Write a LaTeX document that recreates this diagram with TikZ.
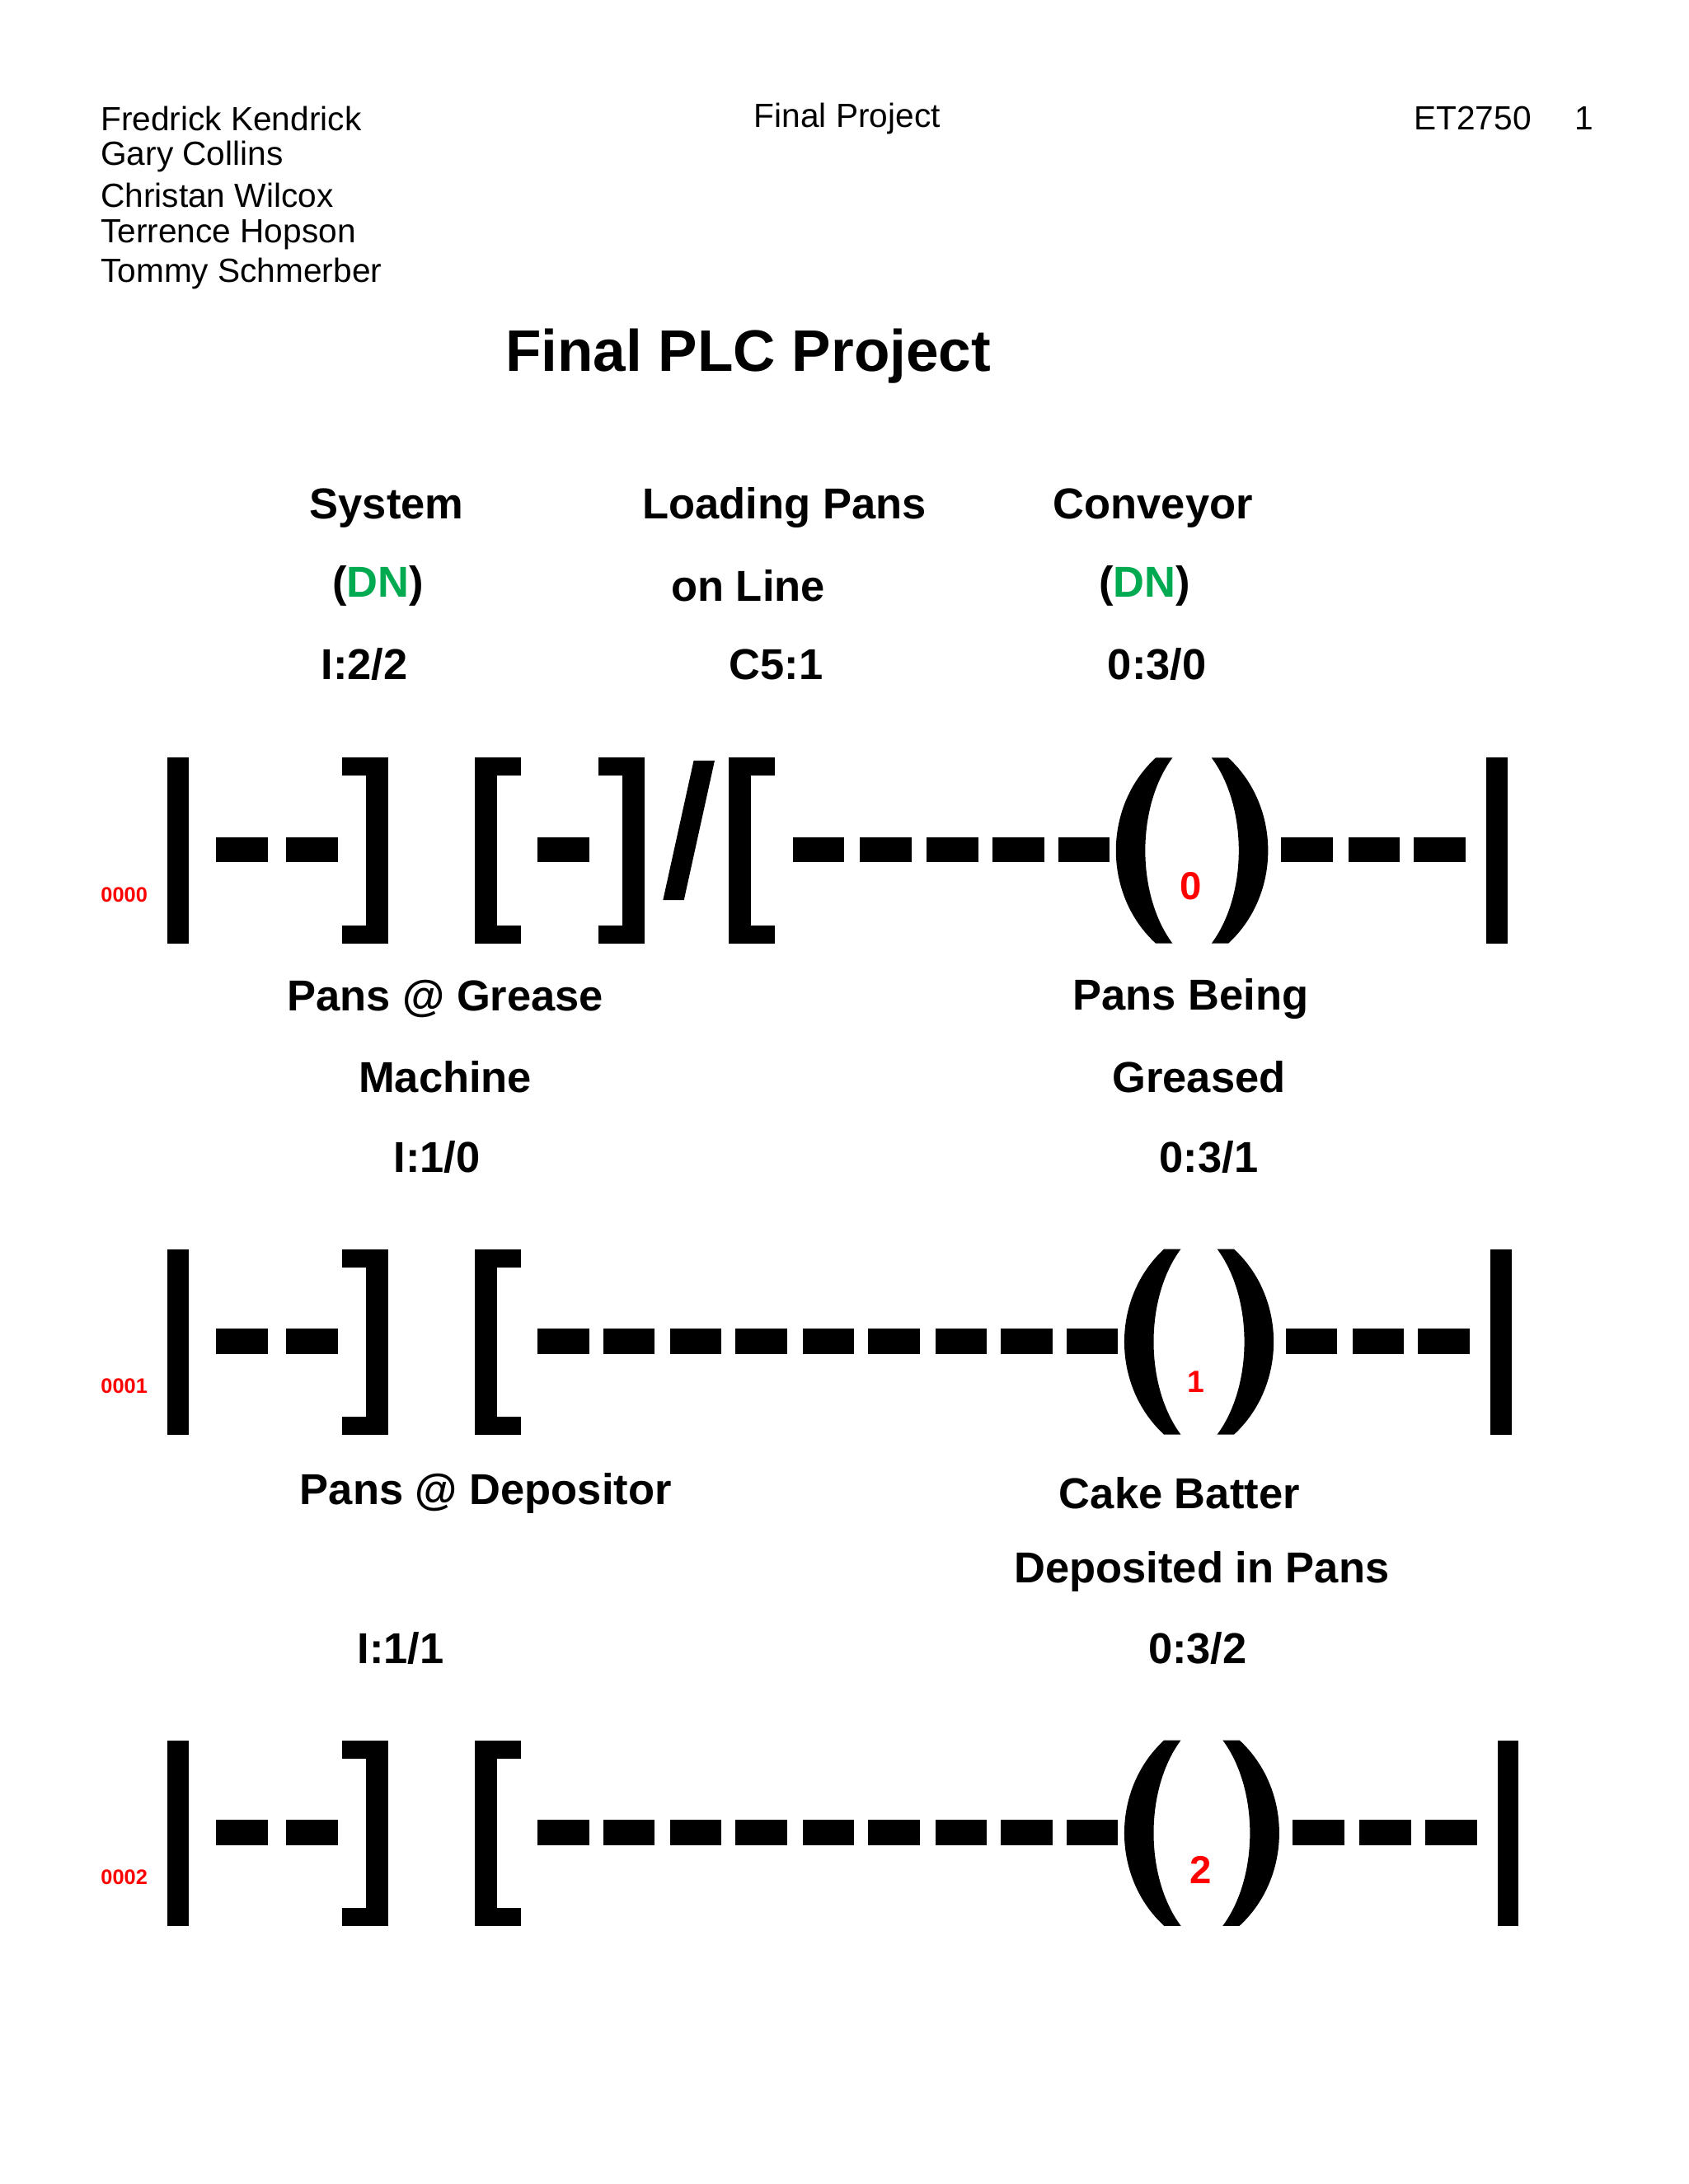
\documentclass[tikz,border=0pt]{standalone}
\usepackage{fontspec}
\setmainfont{Liberation Sans}
\definecolor{dngreen}{RGB}{0,170,80}
\begin{document}
\begin{tikzpicture}[x=1pt,y=1pt,
  hdr/.style={font=\fontsize{24}{28}\selectfont,inner sep=0pt},
  lbl/.style={font=\fontsize{31}{36}\selectfont\bfseries,inner sep=0pt},
  rno/.style={font=\fontsize{15}{18}\selectfont\bfseries,text=red,inner sep=0pt},
  cnum/.style={font=\fontsize{28}{32}\selectfont\bfseries,text=red,inner sep=0pt},
  ink/.style={fill=black,draw=none}]
\useasboundingbox (0,0) rectangle (1210,-1565);
\newcommand{\vbar}[3]{\fill (#1,-#2) rectangle ++(15,-#3);}
\newcommand{\dsh}[2]{\fill (#1,-#2+9) rectangle ++(37,-18);}
\newcommand{\rbr}[2]{\fill (#1,-#2) rectangle ++(16,-133); \fill (#1-17,-#2) rectangle ++(17,-13); \fill (#1-17,-#2-120) rectangle ++(17,-13);}
\newcommand{\lbr}[2]{\fill (#1,-#2) rectangle ++(16,-133); \fill (#1+16,-#2) rectangle ++(17,-13); \fill (#1+16,-#2-120) rectangle ++(17,-13);}
\newcommand{\lpar}[2]{\fill[shift={(#1,-#2)}] (28,0) .. controls (-10,-35) and (-10,-98) .. (28,-133) -- (40,-133) .. controls (14,-98) and (14,-35) .. (40,0) -- cycle;}
\newcommand{\rpar}[2]{\fill[shift={(#1,-#2)}] (12,0) .. controls (50,-35) and (50,-98) .. (12,-133) -- (0,-133) .. controls (26,-98) and (26,-35) .. (0,0) -- cycle;}
% header
\node[hdr,anchor=west] (n1) at (72,-85) {Fredrick Kendrick};
\node[hdr,anchor=west] (n2) at (72,-112) {Gary Collins};
\node[hdr,anchor=west] (n3) at (72,-140) {Christan Wilcox};
\node[hdr,anchor=west] (n4) at (72,-168) {Terrence Hopson};
\node[hdr,anchor=west] (n5) at (72,-196) {Tommy Schmerber};
\node[hdr] (fp) at (607,-85) {Final Project};
\node[hdr] (et) at (1055,-85) {ET2750};
\node[hdr] (pg) at (1135,-85) {1};
\node[font=\fontsize{42}{48}\selectfont\bfseries,inner sep=0pt] (title) at (536,-255) {Final PLC Project};
% labels
\node[lbl] (a1) at (277,-364) {System};
\node[lbl] (a2) at (271,-420) {(\textcolor{dngreen}{DN})};
\node[lbl] (a3) at (261,-476) {I:2/2};
\node[lbl] (b1) at (562,-364) {Loading Pans};
\node[lbl] (b2) at (536,-420) {on Line};
\node[lbl] (b3) at (556,-476) {C5:1};
\node[lbl] (c1) at (826,-364) {Conveyor};
\node[lbl] (c2) at (820,-420) {(\textcolor{dngreen}{DN})};
\node[lbl] (c3) at (829,-476) {0:3/0};
\node[lbl] (d1) at (319,-716) {Pans @ Grease};
\node[lbl] (d2) at (319,-772) {Machine};
\node[lbl] (d3) at (313,-829) {I:1/0};
\node[lbl] (e1) at (853,-716) {Pans Being};
\node[lbl] (e2) at (859,-772) {Greased};
\node[lbl] (e3) at (866,-829) {0:3/1};
\node[lbl] (f1) at (348,-1070) {Pans @ Depositor};
\node[lbl] (f3) at (287,-1181) {I:1/1};
\node[lbl] (g1) at (845,-1070) {Cake Batter};
\node[lbl] (g2) at (861,-1126) {Deposited in Pans};
\node[lbl] (g3) at (858,-1181) {0:3/2};
\node[rno] (r0) at (89,-641) {0000};
\node[rno] (r1) at (89,-993) {0001};
\node[rno] (r2) at (89,-1345) {0002};
% rung 0
\vbar{120}{543}{133}
\dsh{155}{609}\dsh{205}{609}
\rbr{262}{543}
\lbr{340}{543}
\dsh{385}{609}
\rbr{446}{543}
\fill (475,-645) -- (490,-645) -- (512,-545) -- (497,-545) -- cycle;
\lbr{522}{543}
\foreach \x in {568,616,664,711,758} {\dsh{\x}{609}}
\lpar{800}{543}\rpar{868}{543}
\node[cnum] (o0) at (853,-635) {0};
\foreach \x in {918,966,1013} {\dsh{\x}{609}}
\vbar{1065}{543}{133}
% rung 1
\vbar{120}{895}{133}
\dsh{155}{961}\dsh{205}{961}
\rbr{262}{895}
\lbr{340}{895}
\foreach \x in {385,432,480,527,575,622,670,717,764} {\dsh{\x}{961}}
\lpar{806}{895}\rpar{872}{895}
\node[cnum,font=\fontsize{22}{26}\selectfont\bfseries] (o1) at (857,-990) {1};
\foreach \x in {921,969,1016} {\dsh{\x}{961}}
\vbar{1068}{895}{133}
% rung 2
\vbar{120}{1247}{133}
\dsh{155}{1313}\dsh{205}{1313}
\rbr{262}{1247}
\lbr{340}{1247}
\foreach \x in {385,432,480,527,575,622,670,717,764} {\dsh{\x}{1313}}
\lpar{806}{1247}\rpar{876}{1247}
\node[cnum] (o2) at (860,-1340) {2};
\foreach \x in {926,974,1021} {\dsh{\x}{1313}}
\vbar{1073}{1247}{133}
\end{tikzpicture}
\end{document}
